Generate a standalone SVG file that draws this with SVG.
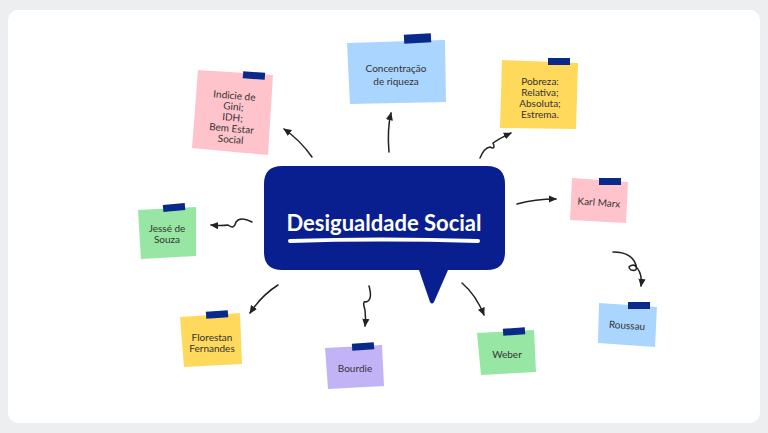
<svg xmlns="http://www.w3.org/2000/svg" width="768" height="433" viewBox="0 0 768 433">
<defs>
<style>
.n{stroke:none}
.tape{fill:#0a2a8a}
.t{font-family:"Lato","Noto Sans",sans-serif;font-size:10px;fill:#333;text-anchor:middle}
.c{fill:none;stroke:#222;stroke-width:1.5;stroke-linecap:round}
</style>
<marker id="ah" viewBox="0 0 10 10" refX="8" refY="5" markerWidth="6" markerHeight="6" orient="auto"><path d="M0,1 L9,5 L0,9 Z" fill="#222"/></marker>
</defs>
<rect width="768" height="433" fill="#eceef0"/>
<rect x="8" y="10" width="752" height="413" rx="10" fill="#fff"/>
<g id="center">
<path d="M282,166 H487 Q505,166 505,184 V252 Q505,270 487,270 H448 L434,302 Q432,305 430,302 L419,270 H282 Q264,270 264,252 V184 Q264,166 282,166 Z" fill="#0a1f8f"/>
<text x="384" y="231" font-family="Lato,'Noto Sans',sans-serif" font-size="22" font-weight="bold" fill="#fff" text-anchor="middle">Desigualdade Social</text>
<path d="M290,241 Q380,238 478,241" stroke="#fff" stroke-width="4" fill="none" stroke-linecap="round"/>
</g>
<g id="n1"><polygon points="198,70 273,75 268,155 192,148" fill="#ffc3cc"/><rect class="tape" x="243" y="72" width="22" height="7" transform="rotate(4 254 75)"/>
<text class="t" transform="rotate(5 233 112)"><tspan x="233" y="99">Indicie de</tspan><tspan x="233" y="110">Gini;</tspan><tspan x="233" y="121">IDH;</tspan><tspan x="233" y="132">Bem Estar</tspan><tspan x="233" y="143">Social</tspan></text></g>
<g id="n2"><polygon points="347,43 445,40 446,102 350,104" fill="#a9d5ff"/><rect class="tape" x="404" y="34" width="27" height="9" transform="rotate(-3 417 38)"/>
<text class="t" font-size="12"><tspan x="396" y="72">Concentração</tspan><tspan x="396" y="85">de riqueza</tspan></text></g>
<g id="n3"><polygon points="502,60 578,63 576,129 500,128" fill="#ffd95c"/><rect class="tape" x="548" y="58" width="22" height="7"/>
<text class="t"><tspan x="540" y="85">Pobreza:</tspan><tspan x="540" y="96">Relativa;</tspan><tspan x="540" y="107">Absoluta;</tspan><tspan x="540" y="118">Estrema.</tspan></text></g>
<g id="n4"><polygon points="572,178 628,182 626,223 570,220" fill="#ffc3cc"/><rect class="tape" x="599" y="178" width="22" height="7"/>
<text class="t" x="599" y="206" transform="rotate(4 599 202)">Karl Marx</text></g>
<g id="n5"><polygon points="138,210 196,207 196,256 141,259" fill="#98e6a4"/><rect class="tape" x="163" y="204" width="22" height="7" transform="rotate(-5 174 207)"/>
<text class="t"><tspan x="167" y="232">Jessé de</tspan><tspan x="167" y="243">Souza</tspan></text></g>
<g id="n6"><polygon points="180,317 240,313 242,364 184,367" fill="#ffd95c"/><rect class="tape" x="206" y="311" width="22" height="7" transform="rotate(-4 217 314)"/>
<text class="t"><tspan x="212" y="341">Florestan</tspan><tspan x="212" y="352">Fernandes</tspan></text></g>
<g id="n7"><polygon points="325,348 382,345 384,386 328,389" fill="#c2b3f7"/><rect class="tape" x="352" y="343" width="22" height="7" transform="rotate(-4 363 346)"/>
<text class="t" x="355" y="372">Bourdie</text></g>
<g id="n8"><polygon points="477,333 534,330 536,372 481,375" fill="#98e6a4"/><rect class="tape" x="503" y="328" width="22" height="7" transform="rotate(-4 514 331)"/>
<text class="t" x="507" y="358">Weber</text></g>
<g id="n9"><polygon points="599,303 657,307 655,347 598,343" fill="#a9d5ff"/><rect class="tape" x="628" y="302" width="22" height="7"/>
<text class="t" x="627" y="329" transform="rotate(4 627 326)">Roussau</text></g>
<g id="connectors">
<path class="c" marker-end="url(#ah)" d="M312,157 Q300,140 284,129"/>
<path class="c" marker-end="url(#ah)" d="M389,152 Q387,130 391,113"/>
<path class="c" marker-end="url(#ah)" d="M480,158 Q484,148 490,147 Q496,150 493,143 Q500,138 511,133"/>
<path class="c" marker-end="url(#ah)" d="M517,204 Q535,199 556,199"/>
<path class="c" marker-end="url(#ah)" d="M252,222 Q240,216 236,222 Q234,230 228,225 Q222,226 211,225"/>
<path class="c" marker-end="url(#ah)" d="M278,285 Q262,295 250,313"/>
<path class="c" marker-end="url(#ah)" d="M369,286 Q373,300 366,302 Q362,300 365,310 Q366,318 365,326"/>
<path class="c" marker-end="url(#ah)" d="M462,283 Q476,295 484,315"/>
<path class="c" marker-end="url(#ah)" d="M613,252 Q632,252 636,265 Q638,272 631,270 Q626,266 634,265 Q643,272 641,286"/>
</g>
</svg>
